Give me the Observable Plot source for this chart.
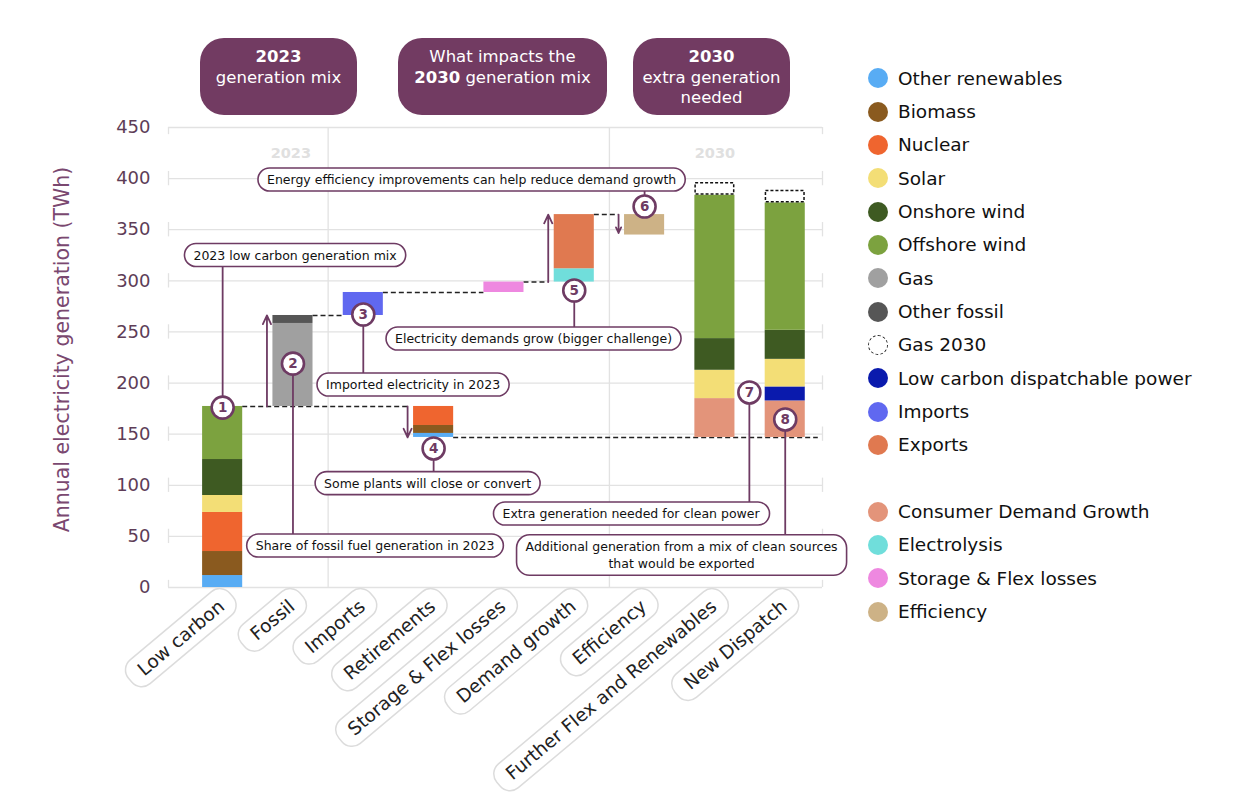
<!DOCTYPE html>
<html><head><meta charset="utf-8">
<script src="https://cdn.jsdelivr.net/npm/d3@7"></script>
<script src="https://cdn.jsdelivr.net/npm/@observablehq/plot@0.6"></script>
<style>
body{margin:0;background:#fff;font-family:"DejaVu Sans",sans-serif;}
#wrap{position:relative;width:1240px;height:810px;overflow:hidden;background:#fff}
#chart{position:absolute;left:0;top:0}
.hdr{position:absolute;top:38px;height:77px;box-sizing:border-box;padding-top:9px;background:#723b62;color:#fff;border-radius:24px;text-align:center;font-size:16.5px;line-height:20.5px;white-space:nowrap}
.hdr b{font-weight:bold}
.li{position:absolute;left:868px;height:22px;display:flex;align-items:center;font-size:18.5px;color:#111;white-space:nowrap}
.dot{width:20px;height:20px;border-radius:50%;margin-right:10px;box-sizing:border-box;flex:none}
</style></head>
<body><div id="wrap"><div id="chart"></div>
<div class="hdr" style="left:200px;width:157px"><b>2023</b><br>generation mix</div>
<div class="hdr" style="left:398px;width:209px">What impacts the<br><b>2030</b> generation mix</div>
<div class="hdr" style="left:633px;width:157px"><b>2030</b><br>extra generation<br>needed</div>
<div id="legend"></div>
</div>
<script>
// ---------- DATA ----------
const categories = ["Low carbon","Fossil","Imports","Retirements","Storage & Flex losses","Demand growth","Efficiency","Further Flex and Renewables","New Dispatch"];
const yTicks = [0,50,100,150,200,250,300,350,400,450];

const lowCarbonSeries = ["Other renewables","Biomass","Nuclear","Solar","Onshore wind","Offshore wind"];
const lowCarbonValues = [11.7, 23.5, 38.2, 16.6, 35.2, 51.9];
const fossilSeries = ["Gas","Other fossil"];
const fossilValues = [81.2, 7.8];
const importsSeries = ["Imports"];
const importsValues = [22.5];
const retirementSeries = ["Nuclear","Biomass","Other renewables"];   // removed, top to bottom
const retirementValues = [18.6, 7.8, 3.9];
const storageSeries = ["Storage & Flex losses"];
const storageValues = [10.2];
const demandSeries = ["Electrolysis","Exports"];
const demandValues = [13, 53];
const efficiencySeries = ["Efficiency"];
const efficiencyValues = [-20];
const furtherSeries = ["Consumer Demand Growth","Solar","Onshore wind","Offshore wind","Gas 2030"];
const furtherValues = [38, 27.7, 31, 140.2, 12.5];
const dispatchSeries = ["Consumer Demand Growth","Low carbon dispatchable power","Solar","Onshore wind","Offshore wind","Gas 2030"];
const dispatchValues = [35.7, 13.7, 27, 28.4, 124.6, 12.4];

const legendSeries = ["Other renewables","Biomass","Nuclear","Solar","Onshore wind","Offshore wind","Gas","Other fossil","Gas 2030","Low carbon dispatchable power","Imports","Exports","Consumer Demand Growth","Electrolysis","Storage & Flex losses","Efficiency"];
const legendColors = ["#58acf4","#8a5a1f","#ef652f","#f3de76","#3e5a22","#7ca23f","#a0a0a0","#565656","#ffffff","#0a1aad","#6068f0","#e07950","#e3947a","#70dedb","#ee88e0","#cdb286"];

const calloutTexts = ["2023 low carbon generation mix","Share of fossil fuel generation in 2023","Imported electricity in 2023","Some plants will close or convert","Electricity demands grow (bigger challenge)","Energy efficiency improvements can help reduce demand growth","Extra generation needed for clean power","Additional generation from a mix of clean sources\nthat would be exported"];
// ---------- LAYOUT (data-space anchors for annotations) ----------
const calloutPos = [[1.03,326.3],[2.167,42.1],[2.708,199.6],[2.914,103.2],[4.421,244.6],[3.54,400.2],[5.808,73.4],[6.526,32.8]];
const markerPos = [[0,176],[1,219],[2,267],[3,136],[5,290.5],[6,372.7],[7.49,190.8],[8,164.4]];

const purple = "#6e3b63";
const hw = 0.285, arrowOff = 0.37, leftEdge = -0.77, rightEdge = 8.53;

// ---------- build segments ----------
const segs = [];
function stack(cat, series, values, base, dir = 1) {
  let y = base;
  series.forEach((s, k) => { const y2 = y + dir * values[k]; segs.push({cat, series: s, y1: y, y2}); y = y2; });
  return y;
}
const lcTop = stack(0, lowCarbonSeries, lowCarbonValues, 0);
const fosTop = stack(1, fossilSeries, fossilValues, lcTop);
const impTop = stack(2, importsSeries, importsValues, fosTop);
const retBottom = stack(3, retirementSeries, retirementValues, lcTop, -1);
const stoTop = stack(4, storageSeries, storageValues, impTop);
const demTop = stack(5, demandSeries, demandValues, stoTop);
const effBottom = stack(6, efficiencySeries, efficiencyValues, demTop);
stack(7, furtherSeries, furtherValues, retBottom);
stack(8, dispatchSeries, dispatchValues, retBottom);

const connectors = [
  {y: lcTop, x1: 0 + hw, x2: 3 - arrowOff},
  {y: fosTop, x1: 1 + hw, x2: 2 - hw},
  {y: impTop, x1: 2 + hw, x2: 4 - hw},
  {y: stoTop, x1: 4 + hw, x2: 5 - arrowOff},
  {y: demTop, x1: 5 + hw, x2: 6 - arrowOff},
  {y: retBottom, x1: 3 + hw, x2: 8.47}
];
const arrows = [
  {x: 1 - arrowOff, y1: lcTop, y2: fosTop},
  {x: 3 - arrowOff, y1: lcTop, y2: retBottom},
  {x: 5 - arrowOff, y1: stoTop, y2: demTop},
  {x: 6 - arrowOff, y1: demTop, y2: effBottom + 2}
];
const callouts = calloutTexts.map((t, i) => ({text: t, x: calloutPos[i][0], y: calloutPos[i][1], mx: markerPos[i][0], my: markerPos[i][1], n: String(i + 1)}));
const edgeSegs = yTicks.flatMap(v => [leftEdge, rightEdge].map(x => ({x, y1: Math.max(0, v - 7), y2: Math.min(450, v + 7)})));

const plot = Plot.plot({
  width: 1240, height: 810,
  marginLeft: 168, marginRight: 1240 - 822, marginTop: 127, marginBottom: 810 - 587,
  x: {type: "linear", domain: [leftEdge, rightEdge], axis: null},
  y: {domain: [0, 450], axis: null},
  color: {domain: legendSeries, range: legendColors},
  style: {fontFamily: "DejaVu Sans, sans-serif", background: "transparent", overflow: "visible"},
  marks: [
    Plot.ruleY(yTicks, {stroke: "#e2e2e2", strokeWidth: 1.3}),
    Plot.ruleX([1.5, 5.5], {y1: 0, y2: 450, stroke: "#e2e2e2", strokeWidth: 1.3}),
    Plot.ruleX(edgeSegs, {x: "x", y1: "y1", y2: "y2", stroke: "#e2e2e2", strokeWidth: 1.3}),
    Plot.axisY({ticks: yTicks, tickSize: 0, tickPadding: 18, fontSize: 18, color: "#5e3d57", label: null}),
    Plot.text(["Annual electricity generation (TWh)"], {frameAnchor: "left", textAnchor: "middle", dx: -106, dy: -8, rotate: -90, fontSize: 20.5, fill: "#7a4870"}),
    Plot.text(["2023", "2030"], {x: (d, i) => [0.97, 7.0][i], y: 425, fontSize: 14.5, fontWeight: "bold", fill: "#e0e0e0"}),
    Plot.ruleY(connectors, {y: "y", x1: "x1", x2: "x2", stroke: "#222", strokeWidth: 1.5, strokeDasharray: "5,3"}),
    Plot.rectY(segs.filter(d => d.series !== "Gas 2030"), {x1: d => d.cat - hw, x2: d => d.cat + hw, y1: "y1", y2: "y2", fill: "series"}),
    Plot.rectY(segs.filter(d => d.series === "Gas 2030"), {x1: d => d.cat - hw, x2: d => d.cat + hw, y1: "y1", y2: "y2", fill: "#fff", stroke: "#111", strokeWidth: 1.5, strokeDasharray: "3,2", inset: 0.75}),
    Plot.arrow(arrows, {x: "x", y1: "y1", y2: "y2", stroke: purple, strokeWidth: 1.8, headLength: 8, headAngle: 50}),
    Plot.ruleX(callouts, {x: "mx", y1: "my", y2: "y", stroke: purple, strokeWidth: 1.8}),
    Plot.text(callouts, {x: "x", y: "y", text: "text", fontSize: 12.5, fill: "#111", lineHeight: 1.4, className: "callout"}),
    Plot.dot(callouts, {x: "mx", y: "my", r: 11, fill: "#fff", stroke: purple, strokeWidth: 2.6}),
    Plot.text(callouts, {x: "mx", y: "my", text: "n", fontSize: 13.5, fontWeight: "bold", fill: purple}),
    Plot.text(categories, {x: (d, i) => i, frameAnchor: "bottom", dx: 3, dy: 21, rotate: -40, textAnchor: "end", fontSize: 18.5, fill: "#222", className: "xpill"})
  ]
});
document.getElementById("chart").appendChild(plot);

function pillify(sel, padX, padY, stroke, sw) {
  plot.querySelectorAll(sel).forEach(t => {
    const bb = t.getBBox();
    const r = document.createElementNS("http://www.w3.org/2000/svg", "rect");
    const h = bb.height + 2 * padY;
    r.setAttribute("x", bb.x - padX); r.setAttribute("y", bb.y - padY);
    r.setAttribute("width", bb.width + 2 * padX); r.setAttribute("height", h);
    r.setAttribute("rx", Math.min(h / 2, 13)); r.setAttribute("fill", "#fff");
    r.setAttribute("stroke", stroke); r.setAttribute("stroke-width", sw);
    const tr = t.getAttribute("transform"); if (tr) r.setAttribute("transform", tr);
    t.parentNode.insertBefore(r, t);
  });
}
pillify("g.callout text", 9, 4, purple, 1.6);
pillify("g.xpill text", 13, 5, "#dcdcdc", 1.5);

// legend
const lg = document.getElementById("legend");
legendSeries.forEach((s, k) => {
  const row = k >= 12 ? k + 1 : k;
  const div = document.createElement("div");
  div.className = "li";
  div.style.top = (78.3 + 33.33 * row - 11) + "px";
  const dot = document.createElement("span");
  dot.className = "dot";
  if (s === "Gas 2030") { dot.style.border = "1.5px dashed #222"; dot.style.background = "#fff"; }
  else dot.style.background = legendColors[k];
  div.appendChild(dot);
  div.appendChild(document.createTextNode(s));
  lg.appendChild(div);
});
</script></body></html>
